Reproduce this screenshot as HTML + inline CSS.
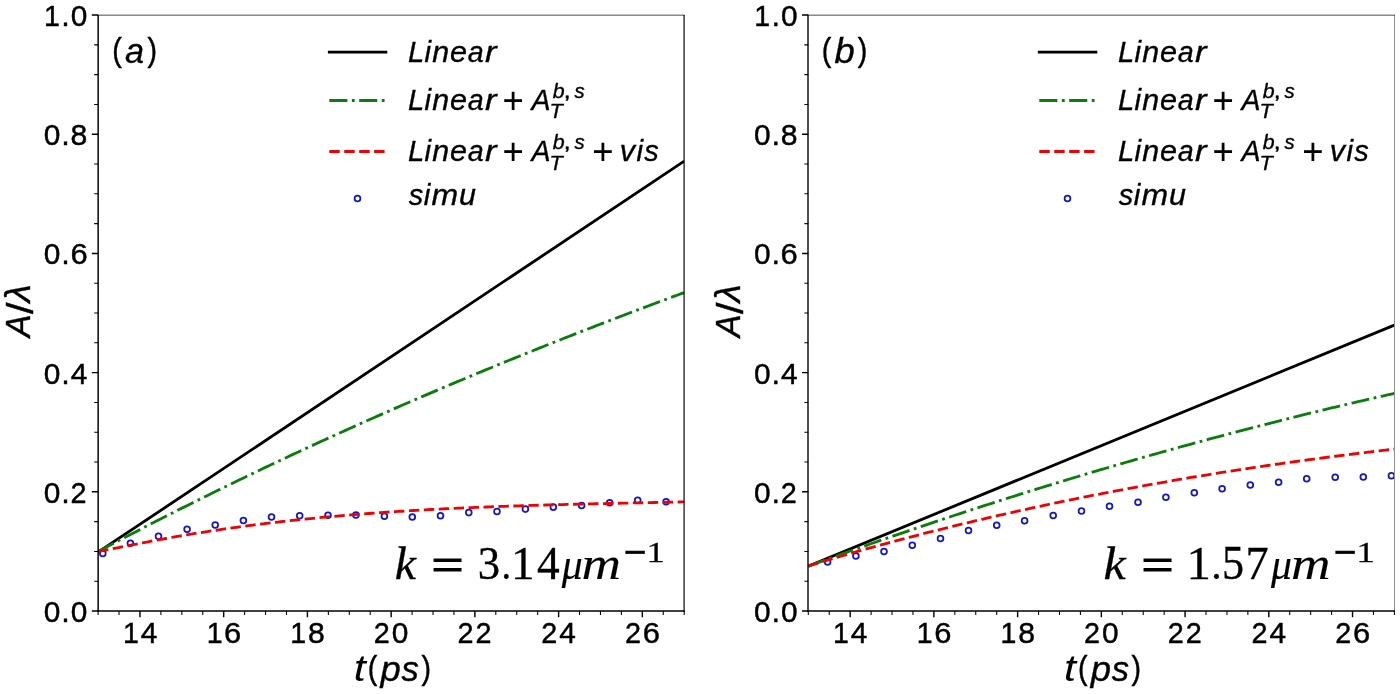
<!DOCTYPE html><html><head><meta charset="utf-8"><title>A/lambda vs t</title><style>html,body{margin:0;padding:0;background:#fff;overflow:hidden}svg{display:block;will-change:transform}</style></head><body>
<svg width="1400" height="694" viewBox="0 0 1400 694">
<rect width="1400" height="694" fill="#fff"/>
<defs><clipPath id="clipL"><rect x="98.10" y="15.05" width="586.10" height="595.95"/></clipPath><clipPath id="clipR"><rect x="808.30" y="15.05" width="586.10" height="595.95"/></clipPath></defs>
<g clip-path="url(#clipL)">
<circle cx="102.8" cy="553.5" r="2.9" fill="none" stroke="#1414d0" stroke-width="1.75"/>
<circle cx="130.4" cy="543.3" r="2.9" fill="none" stroke="#1414d0" stroke-width="1.75"/>
<circle cx="158.5" cy="536.2" r="2.9" fill="none" stroke="#1414d0" stroke-width="1.75"/>
<circle cx="187.1" cy="529.3" r="2.9" fill="none" stroke="#1414d0" stroke-width="1.75"/>
<circle cx="215.2" cy="525.0" r="2.9" fill="none" stroke="#1414d0" stroke-width="1.75"/>
<circle cx="243.4" cy="520.5" r="2.9" fill="none" stroke="#1414d0" stroke-width="1.75"/>
<circle cx="271.5" cy="517.0" r="2.9" fill="none" stroke="#1414d0" stroke-width="1.75"/>
<circle cx="299.7" cy="515.8" r="2.9" fill="none" stroke="#1414d0" stroke-width="1.75"/>
<circle cx="328.0" cy="515.3" r="2.9" fill="none" stroke="#1414d0" stroke-width="1.75"/>
<circle cx="355.9" cy="515.1" r="2.9" fill="none" stroke="#1414d0" stroke-width="1.75"/>
<circle cx="384.4" cy="516.3" r="2.9" fill="none" stroke="#1414d0" stroke-width="1.75"/>
<circle cx="412.3" cy="517.1" r="2.9" fill="none" stroke="#1414d0" stroke-width="1.75"/>
<circle cx="440.5" cy="515.7" r="2.9" fill="none" stroke="#1414d0" stroke-width="1.75"/>
<circle cx="468.8" cy="512.6" r="2.9" fill="none" stroke="#1414d0" stroke-width="1.75"/>
<circle cx="497.0" cy="511.4" r="2.9" fill="none" stroke="#1414d0" stroke-width="1.75"/>
<circle cx="525.4" cy="509.1" r="2.9" fill="none" stroke="#1414d0" stroke-width="1.75"/>
<circle cx="553.3" cy="507.1" r="2.9" fill="none" stroke="#1414d0" stroke-width="1.75"/>
<circle cx="581.6" cy="505.5" r="2.9" fill="none" stroke="#1414d0" stroke-width="1.75"/>
<circle cx="609.7" cy="502.8" r="2.9" fill="none" stroke="#1414d0" stroke-width="1.75"/>
<circle cx="637.7" cy="500.3" r="2.9" fill="none" stroke="#1414d0" stroke-width="1.75"/>
<circle cx="666.1" cy="501.7" r="2.9" fill="none" stroke="#1414d0" stroke-width="1.75"/>
<path d="M98.10,552.20 L684.20,161.20" fill="none" stroke="#000" stroke-width="2.82"/>
<path d="M98.10,551.50 L101.05,549.94 L103.99,548.37 L106.94,546.82 L109.88,545.26 L112.83,543.71 L115.77,542.16 L118.72,540.61 L121.66,539.07 L124.61,537.53 L127.55,536.00 L130.50,534.46 L133.44,532.93 L136.39,531.41 L139.33,529.88 L142.28,528.36 L145.22,526.84 L148.17,525.33 L151.11,523.81 L154.06,522.31 L157.00,520.80 L159.95,519.30 L162.89,517.80 L165.84,516.30 L168.79,514.81 L171.73,513.31 L174.68,511.83 L177.62,510.34 L180.57,508.86 L183.51,507.38 L186.46,505.90 L189.40,504.43 L192.35,502.96 L195.29,501.49 L198.24,500.03 L201.18,498.57 L204.13,497.11 L207.07,495.65 L210.02,494.20 L212.96,492.75 L215.91,491.30 L218.85,489.86 L221.80,488.41 L224.74,486.98 L227.69,485.54 L230.64,484.11 L233.58,482.68 L236.53,481.25 L239.47,479.82 L242.42,478.40 L245.36,476.98 L248.31,475.57 L251.25,474.15 L254.20,472.74 L257.14,471.33 L260.09,469.93 L263.03,468.53 L265.98,467.13 L268.92,465.73 L271.87,464.34 L274.81,462.94 L277.76,461.56 L280.70,460.17 L283.65,458.79 L286.59,457.40 L289.54,456.03 L292.48,454.65 L295.43,453.28 L298.38,451.91 L301.32,450.54 L304.27,449.18 L307.21,447.81 L310.16,446.45 L313.10,445.10 L316.05,443.74 L318.99,442.39 L321.94,441.04 L324.88,439.70 L327.83,438.35 L330.77,437.01 L333.72,435.67 L336.66,434.34 L339.61,433.00 L342.55,431.67 L345.50,430.34 L348.44,429.02 L351.39,427.69 L354.33,426.37 L357.28,425.05 L360.23,423.74 L363.17,422.42 L366.12,421.11 L369.06,419.80 L372.01,418.50 L374.95,417.19 L377.90,415.89 L380.84,414.59 L383.79,413.30 L386.73,412.00 L389.68,410.71 L392.62,409.42 L395.57,408.14 L398.51,406.85 L401.46,405.57 L404.40,404.29 L407.35,403.02 L410.29,401.74 L413.24,400.47 L416.18,399.20 L419.13,397.93 L422.07,396.67 L425.02,395.40 L427.97,394.14 L430.91,392.88 L433.86,391.63 L436.80,390.38 L439.75,389.12 L442.69,387.88 L445.64,386.63 L448.58,385.38 L451.53,384.14 L454.47,382.90 L457.42,381.66 L460.36,380.43 L463.31,379.20 L466.25,377.97 L469.20,376.74 L472.14,375.51 L475.09,374.29 L478.03,373.06 L480.98,371.85 L483.92,370.63 L486.87,369.41 L489.82,368.20 L492.76,366.99 L495.71,365.78 L498.65,364.57 L501.60,363.37 L504.54,362.17 L507.49,360.97 L510.43,359.77 L513.38,358.57 L516.32,357.38 L519.27,356.19 L522.21,355.00 L525.16,353.81 L528.10,352.62 L531.05,351.44 L533.99,350.26 L536.94,349.08 L539.88,347.90 L542.83,346.73 L545.77,345.55 L548.72,344.38 L551.66,343.21 L554.61,342.05 L557.56,340.88 L560.50,339.72 L563.45,338.56 L566.39,337.40 L569.34,336.24 L572.28,335.09 L575.23,333.93 L578.17,332.78 L581.12,331.63 L584.06,330.49 L587.01,329.34 L589.95,328.20 L592.90,327.06 L595.84,325.92 L598.79,324.78 L601.73,323.64 L604.68,322.51 L607.62,321.38 L610.57,320.25 L613.51,319.12 L616.46,317.99 L619.41,316.87 L622.35,315.75 L625.30,314.62 L628.24,313.51 L631.19,312.39 L634.13,311.27 L637.08,310.16 L640.02,309.05 L642.97,307.94 L645.91,306.83 L648.86,305.72 L651.80,304.62 L654.75,303.52 L657.69,302.41 L660.64,301.32 L663.58,300.22 L666.53,299.12 L669.47,298.03 L672.42,296.94 L675.36,295.85 L678.31,294.76 L681.25,293.67 L684.20,292.58" fill="none" stroke="#0a7d0a" stroke-width="2.82" stroke-dasharray="18.05 4.51 2.82 4.51" stroke-dashoffset="0.4"/>
<path d="M98.10,551.50 L101.05,550.96 L103.99,550.40 L106.94,549.84 L109.88,549.27 L112.83,548.69 L115.77,548.11 L118.72,547.53 L121.66,546.95 L124.61,546.36 L127.55,545.78 L130.50,545.20 L133.44,544.62 L136.39,544.05 L139.33,543.48 L142.28,542.91 L145.22,542.34 L148.17,541.78 L151.11,541.22 L154.06,540.67 L157.00,540.12 L159.95,539.58 L162.89,539.04 L165.84,538.51 L168.79,537.98 L171.73,537.46 L174.68,536.94 L177.62,536.43 L180.57,535.93 L183.51,535.42 L186.46,534.93 L189.40,534.44 L192.35,533.95 L195.29,533.47 L198.24,533.00 L201.18,532.53 L204.13,532.06 L207.07,531.60 L210.02,531.15 L212.96,530.70 L215.91,530.25 L218.85,529.82 L221.80,529.38 L224.74,528.95 L227.69,528.53 L230.64,528.11 L233.58,527.70 L236.53,527.29 L239.47,526.89 L242.42,526.49 L245.36,526.09 L248.31,525.70 L251.25,525.32 L254.20,524.94 L257.14,524.57 L260.09,524.20 L263.03,523.83 L265.98,523.47 L268.92,523.11 L271.87,522.76 L274.81,522.41 L277.76,522.07 L280.70,521.73 L283.65,521.40 L286.59,521.07 L289.54,520.74 L292.48,520.42 L295.43,520.11 L298.38,519.79 L301.32,519.48 L304.27,519.18 L307.21,518.88 L310.16,518.58 L313.10,518.29 L316.05,518.00 L318.99,517.72 L321.94,517.44 L324.88,517.16 L327.83,516.89 L330.77,516.62 L333.72,516.36 L336.66,516.10 L339.61,515.84 L342.55,515.59 L345.50,515.34 L348.44,515.09 L351.39,514.85 L354.33,514.61 L357.28,514.38 L360.23,514.14 L363.17,513.92 L366.12,513.69 L369.06,513.47 L372.01,513.25 L374.95,513.04 L377.90,512.82 L380.84,512.61 L383.79,512.41 L386.73,512.21 L389.68,512.01 L392.62,511.81 L395.57,511.62 L398.51,511.43 L401.46,511.24 L404.40,511.06 L407.35,510.88 L410.29,510.70 L413.24,510.53 L416.18,510.35 L419.13,510.18 L422.07,510.02 L425.02,509.85 L427.97,509.69 L430.91,509.53 L433.86,509.38 L436.80,509.22 L439.75,509.07 L442.69,508.92 L445.64,508.78 L448.58,508.63 L451.53,508.49 L454.47,508.35 L457.42,508.21 L460.36,508.08 L463.31,507.95 L466.25,507.82 L469.20,507.69 L472.14,507.56 L475.09,507.44 L478.03,507.32 L480.98,507.20 L483.92,507.08 L486.87,506.97 L489.82,506.85 L492.76,506.74 L495.71,506.63 L498.65,506.52 L501.60,506.42 L504.54,506.31 L507.49,506.21 L510.43,506.11 L513.38,506.01 L516.32,505.91 L519.27,505.82 L522.21,505.72 L525.16,505.63 L528.10,505.54 L531.05,505.45 L533.99,505.36 L536.94,505.27 L539.88,505.18 L542.83,505.10 L545.77,505.02 L548.72,504.93 L551.66,504.85 L554.61,504.77 L557.56,504.69 L560.50,504.62 L563.45,504.54 L566.39,504.46 L569.34,504.39 L572.28,504.31 L575.23,504.24 L578.17,504.17 L581.12,504.10 L584.06,504.03 L587.01,503.96 L589.95,503.89 L592.90,503.82 L595.84,503.75 L598.79,503.69 L601.73,503.62 L604.68,503.55 L607.62,503.49 L610.57,503.42 L613.51,503.36 L616.46,503.30 L619.41,503.23 L622.35,503.17 L625.30,503.11 L628.24,503.04 L631.19,502.98 L634.13,502.92 L637.08,502.86 L640.02,502.79 L642.97,502.73 L645.91,502.67 L648.86,502.61 L651.80,502.55 L654.75,502.49 L657.69,502.42 L660.64,502.36 L663.58,502.30 L666.53,502.24 L669.47,502.17 L672.42,502.11 L675.36,502.05 L678.31,501.98 L681.25,501.92 L684.20,501.86" fill="none" stroke="#f00000" stroke-width="2.82" stroke-dasharray="10.43 4.51"/>
</g>
<path d="M98.13,14.9V611.9" stroke="#000" stroke-width="1.47" fill="none"/>
<path d="M684.1,14.9V611.9" stroke="#000" stroke-width="1.16" fill="none"/>
<path d="M97.4,611.1H684.7" stroke="#000" stroke-width="1.54" fill="none"/>
<path d="M97.4,15.17H684.7" stroke="#000" stroke-width="0.7" fill="none"/>
<path d="M139.96,611.00v6.3 M223.69,611.00v6.3 M307.42,611.00v6.3 M391.15,611.00v6.3 M474.88,611.00v6.3 M558.61,611.00v6.3 M642.34,611.00v6.3 M98.10,611.00h-6.3 M98.10,491.81h-6.3 M98.10,372.62h-6.3 M98.10,253.43h-6.3 M98.10,134.24h-6.3 M98.10,15.05h-6.3" stroke="#000" stroke-width="1.4" fill="none"/>
<path d="M98.10,611.00v3.9 M119.03,611.00v3.9 M160.90,611.00v3.9 M181.83,611.00v3.9 M202.76,611.00v3.9 M244.62,611.00v3.9 M265.56,611.00v3.9 M286.49,611.00v3.9 M328.35,611.00v3.9 M349.29,611.00v3.9 M370.22,611.00v3.9 M412.08,611.00v3.9 M433.01,611.00v3.9 M453.95,611.00v3.9 M495.81,611.00v3.9 M516.74,611.00v3.9 M537.67,611.00v3.9 M579.54,611.00v3.9 M600.47,611.00v3.9 M621.40,611.00v3.9 M663.27,611.00v3.9 M684.20,611.00v3.9 M98.10,581.20h-3.9 M98.10,551.40h-3.9 M98.10,521.61h-3.9 M98.10,462.01h-3.9 M98.10,432.21h-3.9 M98.10,402.42h-3.9 M98.10,342.82h-3.9 M98.10,313.02h-3.9 M98.10,283.23h-3.9 M98.10,223.63h-3.9 M98.10,193.83h-3.9 M98.10,164.04h-3.9 M98.10,104.44h-3.9 M98.10,74.64h-3.9 M98.10,44.85h-3.9" stroke="#000" stroke-width="1.05" fill="none"/>
<g><text transform="translate(122.90 642.90) scale(0.9502 1)" style="font-family:'Liberation Sans',sans-serif;font-size:29.99px;" stroke="#000" stroke-width="0.45">1</text><text transform="translate(140.66 642.90) scale(0.9949 1)" style="font-family:'Liberation Sans',sans-serif;font-size:29.99px;" stroke="#000" stroke-width="0.45">4</text></g>
<g><text transform="translate(206.63 642.90) scale(0.9502 1)" style="font-family:'Liberation Sans',sans-serif;font-size:29.99px;" stroke="#000" stroke-width="0.45">1</text><text transform="translate(224.10 642.90) scale(1.0213 1)" style="font-family:'Liberation Sans',sans-serif;font-size:30.23px;" stroke="#000" stroke-width="0.45">6</text></g>
<g><text transform="translate(290.35 642.90) scale(0.9502 1)" style="font-family:'Liberation Sans',sans-serif;font-size:29.99px;" stroke="#000" stroke-width="0.45">1</text><text transform="translate(308.03 642.90) scale(0.9975 1)" style="font-family:'Liberation Sans',sans-serif;font-size:30.23px;" stroke="#000" stroke-width="0.45">8</text></g>
<g><text transform="translate(373.77 642.90) scale(0.9559 1)" style="font-family:'Liberation Sans',sans-serif;font-size:30.08px;" stroke="#000" stroke-width="0.45">2</text><text transform="translate(391.85 642.90) scale(0.9868 1)" style="font-family:'Liberation Sans',sans-serif;font-size:30.23px;" stroke="#000" stroke-width="0.45">0</text></g>
<g><text transform="translate(457.50 642.90) scale(0.9559 1)" style="font-family:'Liberation Sans',sans-serif;font-size:30.08px;" stroke="#000" stroke-width="0.45">2</text><text transform="translate(475.51 642.90) scale(0.9559 1)" style="font-family:'Liberation Sans',sans-serif;font-size:30.08px;" stroke="#000" stroke-width="0.45">2</text></g>
<g><text transform="translate(541.23 642.90) scale(0.9559 1)" style="font-family:'Liberation Sans',sans-serif;font-size:30.08px;" stroke="#000" stroke-width="0.45">2</text><text transform="translate(559.30 642.90) scale(0.9949 1)" style="font-family:'Liberation Sans',sans-serif;font-size:29.99px;" stroke="#000" stroke-width="0.45">4</text></g>
<g><text transform="translate(624.96 642.90) scale(0.9559 1)" style="font-family:'Liberation Sans',sans-serif;font-size:30.08px;" stroke="#000" stroke-width="0.45">2</text><text transform="translate(642.74 642.90) scale(1.0213 1)" style="font-family:'Liberation Sans',sans-serif;font-size:30.23px;" stroke="#000" stroke-width="0.45">6</text></g>
<g><text transform="translate(43.69 622.00) scale(0.9868 1)" style="font-family:'Liberation Sans',sans-serif;font-size:30.23px;" stroke="#000" stroke-width="0.45">0</text><text transform="translate(61.23 622.00) scale(0.9630 1)" style="font-family:'Liberation Sans',sans-serif;font-size:31.80px;" stroke="#000" stroke-width="0.45">.</text><text transform="translate(70.69 622.00) scale(0.9868 1)" style="font-family:'Liberation Sans',sans-serif;font-size:30.23px;" stroke="#000" stroke-width="0.45">0</text></g>
<g><text transform="translate(43.69 502.81) scale(0.9868 1)" style="font-family:'Liberation Sans',sans-serif;font-size:30.23px;" stroke="#000" stroke-width="0.45">0</text><text transform="translate(61.23 502.81) scale(0.9630 1)" style="font-family:'Liberation Sans',sans-serif;font-size:31.80px;" stroke="#000" stroke-width="0.45">.</text><text transform="translate(70.62 502.81) scale(0.9559 1)" style="font-family:'Liberation Sans',sans-serif;font-size:30.08px;" stroke="#000" stroke-width="0.45">2</text></g>
<g><text transform="translate(43.69 383.62) scale(0.9868 1)" style="font-family:'Liberation Sans',sans-serif;font-size:30.23px;" stroke="#000" stroke-width="0.45">0</text><text transform="translate(61.23 383.62) scale(0.9630 1)" style="font-family:'Liberation Sans',sans-serif;font-size:31.80px;" stroke="#000" stroke-width="0.45">.</text><text transform="translate(70.69 383.62) scale(0.9949 1)" style="font-family:'Liberation Sans',sans-serif;font-size:29.99px;" stroke="#000" stroke-width="0.45">4</text></g>
<g><text transform="translate(43.69 264.43) scale(0.9868 1)" style="font-family:'Liberation Sans',sans-serif;font-size:30.23px;" stroke="#000" stroke-width="0.45">0</text><text transform="translate(61.23 264.43) scale(0.9630 1)" style="font-family:'Liberation Sans',sans-serif;font-size:31.80px;" stroke="#000" stroke-width="0.45">.</text><text transform="translate(70.40 264.43) scale(1.0213 1)" style="font-family:'Liberation Sans',sans-serif;font-size:30.23px;" stroke="#000" stroke-width="0.45">6</text></g>
<g><text transform="translate(43.69 145.24) scale(0.9868 1)" style="font-family:'Liberation Sans',sans-serif;font-size:30.23px;" stroke="#000" stroke-width="0.45">0</text><text transform="translate(61.23 145.24) scale(0.9630 1)" style="font-family:'Liberation Sans',sans-serif;font-size:31.80px;" stroke="#000" stroke-width="0.45">.</text><text transform="translate(70.60 145.24) scale(0.9975 1)" style="font-family:'Liberation Sans',sans-serif;font-size:30.23px;" stroke="#000" stroke-width="0.45">8</text></g>
<g><text transform="translate(43.93 26.05) scale(0.9502 1)" style="font-family:'Liberation Sans',sans-serif;font-size:29.99px;" stroke="#000" stroke-width="0.45">1</text><text transform="translate(61.23 26.05) scale(0.9630 1)" style="font-family:'Liberation Sans',sans-serif;font-size:31.80px;" stroke="#000" stroke-width="0.45">.</text><text transform="translate(70.69 26.05) scale(0.9868 1)" style="font-family:'Liberation Sans',sans-serif;font-size:30.23px;" stroke="#000" stroke-width="0.45">0</text></g>
<g><text transform="translate(353.80 680.60) scale(1.2000 1)" style="font-family:'Liberation Sans',sans-serif;font-size:36.16px;font-style:italic;">t</text><text transform="translate(367.72 678.72) scale(0.8484 1)" style="font-family:'Liberation Sans',sans-serif;font-size:33.68px;" stroke="#000" stroke-width="0.45">(</text><text transform="translate(380.59 680.60) scale(1.0468 1)" style="font-family:'Liberation Sans',sans-serif;font-size:34.82px;font-style:italic;" stroke="#000" stroke-width="0.35">p</text><text transform="translate(401.53 680.60) scale(0.9749 1)" style="font-family:'Liberation Sans',sans-serif;font-size:35.52px;font-style:italic;" stroke="#000" stroke-width="0.35">s</text><text transform="translate(421.38 678.72) scale(0.8484 1)" style="font-family:'Liberation Sans',sans-serif;font-size:33.68px;" stroke="#000" stroke-width="0.45">)</text></g>
<g transform="translate(30.40 339.0) rotate(-90)"><g><text transform="translate(1.68 0.00) scale(0.9521 1)" style="font-family:'Liberation Sans',sans-serif;font-size:35.82px;font-style:italic;" stroke="#000" stroke-width="0.35">A</text><text transform="translate(24.92 2.77) scale(1.0837 1)" style="font-family:'Liberation Sans',sans-serif;font-size:37.82px;" stroke="#000" stroke-width="0.45">/</text><text transform="translate(36.51 0.00) scale(1.0479 1)" style="font-family:'Liberation Sans',sans-serif;font-size:35.44px;font-style:italic;" stroke="#000" stroke-width="0.35">λ</text></g></g>
<g><text transform="translate(112.23 60.72) scale(0.8484 1)" style="font-family:'Liberation Sans',sans-serif;font-size:33.68px;" stroke="#000" stroke-width="0.45">(</text><text transform="translate(124.90 62.60) scale(0.9662 1)" style="font-family:'Liberation Sans',sans-serif;font-size:35.43px;font-style:italic;" stroke="#000" stroke-width="0.35">a</text><text transform="translate(147.53 60.72) scale(0.8484 1)" style="font-family:'Liberation Sans',sans-serif;font-size:33.68px;" stroke="#000" stroke-width="0.45">)</text></g>
<path d="M329.3,52.1H385.9" stroke="#000" stroke-width="2.82" stroke-linecap="square"/>
<path d="M329.3,100.5H385.9" stroke="#0a7d0a" stroke-width="2.82" stroke-dasharray="18.05 4.51 2.82 4.51"/>
<path d="M329.3,151.5H385.9" stroke="#f00000" stroke-width="2.82" stroke-dasharray="10.43 4.51"/>
<circle cx="357.5" cy="198.5" r="2.9" fill="none" stroke="#1414d0" stroke-width="1.75"/>
<g><text transform="translate(408.10 61.80) scale(0.9741 1)" style="font-family:'Liberation Sans',sans-serif;font-size:29.99px;font-style:italic;" stroke="#000" stroke-width="0.35">L</text><text transform="translate(424.53 61.80) scale(0.9924 1)" style="font-family:'Liberation Sans',sans-serif;font-size:29.67px;font-style:italic;" stroke="#000" stroke-width="0.35">i</text><text transform="translate(432.36 61.80) scale(1.0310 1)" style="font-family:'Liberation Sans',sans-serif;font-size:29.48px;font-style:italic;" stroke="#000" stroke-width="0.35">n</text><text transform="translate(450.07 61.80) scale(1.0318 1)" style="font-family:'Liberation Sans',sans-serif;font-size:29.66px;font-style:italic;" stroke="#000" stroke-width="0.35">e</text><text transform="translate(467.73 61.80) scale(0.9662 1)" style="font-family:'Liberation Sans',sans-serif;font-size:29.66px;font-style:italic;" stroke="#000" stroke-width="0.35">a</text><text transform="translate(484.98 61.80) scale(1.1738 1)" style="font-family:'Liberation Sans',sans-serif;font-size:29.46px;font-style:italic;" stroke="#000" stroke-width="0.35">r</text></g>
<g><text transform="translate(408.10 109.70) scale(0.9741 1)" style="font-family:'Liberation Sans',sans-serif;font-size:29.99px;font-style:italic;" stroke="#000" stroke-width="0.35">L</text><text transform="translate(424.53 109.70) scale(0.9924 1)" style="font-family:'Liberation Sans',sans-serif;font-size:29.67px;font-style:italic;" stroke="#000" stroke-width="0.35">i</text><text transform="translate(432.36 109.70) scale(1.0310 1)" style="font-family:'Liberation Sans',sans-serif;font-size:29.48px;font-style:italic;" stroke="#000" stroke-width="0.35">n</text><text transform="translate(450.07 109.70) scale(1.0318 1)" style="font-family:'Liberation Sans',sans-serif;font-size:29.66px;font-style:italic;" stroke="#000" stroke-width="0.35">e</text><text transform="translate(467.73 109.70) scale(0.9662 1)" style="font-family:'Liberation Sans',sans-serif;font-size:29.66px;font-style:italic;" stroke="#000" stroke-width="0.35">a</text><text transform="translate(484.98 109.70) scale(1.1738 1)" style="font-family:'Liberation Sans',sans-serif;font-size:29.46px;font-style:italic;" stroke="#000" stroke-width="0.35">r</text></g>
<g><text transform="translate(502.42 112.89) scale(1.0055 1)" style="font-family:'Liberation Sans',sans-serif;font-size:36.26px;" stroke="#000" stroke-width="0.1">+</text></g>
<g><text transform="translate(531.41 109.70) scale(0.9521 1)" style="font-family:'Liberation Sans',sans-serif;font-size:29.99px;font-style:italic;" stroke="#000" stroke-width="0.35">A</text></g>
<g><text transform="translate(549.46 118.30) scale(1.0295 1)" style="font-family:'Liberation Sans',sans-serif;font-size:20.99px;font-style:italic;" stroke="#000" stroke-width="0.35">T</text></g>
<g><text transform="translate(552.70 97.50) scale(1.0223 1)" style="font-family:'Liberation Sans',sans-serif;font-size:20.88px;font-style:italic;" stroke="#000" stroke-width="0.35">b</text></g>
<g><text transform="translate(563.64 97.50) scale(1.2000 1)" style="font-family:'Liberation Sans',sans-serif;font-size:20.26px;" stroke="#000" stroke-width="0.45">,</text></g>
<g><text transform="translate(574.55 97.50) scale(0.9749 1)" style="font-family:'Liberation Sans',sans-serif;font-size:20.82px;font-style:italic;" stroke="#000" stroke-width="0.35">s</text></g>
<g><text transform="translate(408.10 160.90) scale(0.9741 1)" style="font-family:'Liberation Sans',sans-serif;font-size:29.99px;font-style:italic;" stroke="#000" stroke-width="0.35">L</text><text transform="translate(424.53 160.90) scale(0.9924 1)" style="font-family:'Liberation Sans',sans-serif;font-size:29.67px;font-style:italic;" stroke="#000" stroke-width="0.35">i</text><text transform="translate(432.36 160.90) scale(1.0310 1)" style="font-family:'Liberation Sans',sans-serif;font-size:29.48px;font-style:italic;" stroke="#000" stroke-width="0.35">n</text><text transform="translate(450.07 160.90) scale(1.0318 1)" style="font-family:'Liberation Sans',sans-serif;font-size:29.66px;font-style:italic;" stroke="#000" stroke-width="0.35">e</text><text transform="translate(467.73 160.90) scale(0.9662 1)" style="font-family:'Liberation Sans',sans-serif;font-size:29.66px;font-style:italic;" stroke="#000" stroke-width="0.35">a</text><text transform="translate(484.98 160.90) scale(1.1738 1)" style="font-family:'Liberation Sans',sans-serif;font-size:29.46px;font-style:italic;" stroke="#000" stroke-width="0.35">r</text></g>
<g><text transform="translate(502.42 164.09) scale(1.0055 1)" style="font-family:'Liberation Sans',sans-serif;font-size:36.26px;" stroke="#000" stroke-width="0.1">+</text></g>
<g><text transform="translate(531.41 160.90) scale(0.9521 1)" style="font-family:'Liberation Sans',sans-serif;font-size:29.99px;font-style:italic;" stroke="#000" stroke-width="0.35">A</text></g>
<g><text transform="translate(549.46 169.50) scale(1.0295 1)" style="font-family:'Liberation Sans',sans-serif;font-size:20.99px;font-style:italic;" stroke="#000" stroke-width="0.35">T</text></g>
<g><text transform="translate(552.70 148.70) scale(1.0223 1)" style="font-family:'Liberation Sans',sans-serif;font-size:20.88px;font-style:italic;" stroke="#000" stroke-width="0.35">b</text></g>
<g><text transform="translate(563.64 148.70) scale(1.2000 1)" style="font-family:'Liberation Sans',sans-serif;font-size:20.26px;" stroke="#000" stroke-width="0.45">,</text></g>
<g><text transform="translate(574.55 148.70) scale(0.9749 1)" style="font-family:'Liberation Sans',sans-serif;font-size:20.82px;font-style:italic;" stroke="#000" stroke-width="0.35">s</text></g>
<g><text transform="translate(592.22 164.09) scale(1.0055 1)" style="font-family:'Liberation Sans',sans-serif;font-size:36.26px;" stroke="#000" stroke-width="0.1">+</text></g>
<g><text transform="translate(619.63 160.90) scale(1.0426 1)" style="font-family:'Liberation Sans',sans-serif;font-size:29.29px;font-style:italic;" stroke="#000" stroke-width="0.35">v</text><text transform="translate(636.54 160.90) scale(0.9924 1)" style="font-family:'Liberation Sans',sans-serif;font-size:29.67px;font-style:italic;" stroke="#000" stroke-width="0.35">i</text><text transform="translate(644.13 160.90) scale(0.9749 1)" style="font-family:'Liberation Sans',sans-serif;font-size:29.74px;font-style:italic;" stroke="#000" stroke-width="0.35">s</text></g>
<g><text transform="translate(408.73 205.00) scale(0.9749 1)" style="font-family:'Liberation Sans',sans-serif;font-size:29.74px;font-style:italic;" stroke="#000" stroke-width="0.35">s</text><text transform="translate(423.75 205.00) scale(0.9924 1)" style="font-family:'Liberation Sans',sans-serif;font-size:29.67px;font-style:italic;" stroke="#000" stroke-width="0.35">i</text><text transform="translate(431.55 205.00) scale(1.0853 1)" style="font-family:'Liberation Sans',sans-serif;font-size:29.48px;font-style:italic;" stroke="#000" stroke-width="0.35">m</text><text transform="translate(458.99 205.00) scale(1.0311 1)" style="font-family:'Liberation Sans',sans-serif;font-size:29.53px;font-style:italic;" stroke="#000" stroke-width="0.35">u</text></g>
<g clip-path="url(#clipR)">
<circle cx="827.6" cy="561.9" r="2.9" fill="none" stroke="#1414d0" stroke-width="1.75"/>
<circle cx="855.9" cy="556.0" r="2.9" fill="none" stroke="#1414d0" stroke-width="1.75"/>
<circle cx="884.0" cy="551.5" r="2.9" fill="none" stroke="#1414d0" stroke-width="1.75"/>
<circle cx="912.3" cy="545.2" r="2.9" fill="none" stroke="#1414d0" stroke-width="1.75"/>
<circle cx="940.5" cy="538.4" r="2.9" fill="none" stroke="#1414d0" stroke-width="1.75"/>
<circle cx="968.5" cy="530.5" r="2.9" fill="none" stroke="#1414d0" stroke-width="1.75"/>
<circle cx="996.7" cy="525.3" r="2.9" fill="none" stroke="#1414d0" stroke-width="1.75"/>
<circle cx="1024.6" cy="520.7" r="2.9" fill="none" stroke="#1414d0" stroke-width="1.75"/>
<circle cx="1053.2" cy="515.5" r="2.9" fill="none" stroke="#1414d0" stroke-width="1.75"/>
<circle cx="1081.5" cy="511.0" r="2.9" fill="none" stroke="#1414d0" stroke-width="1.75"/>
<circle cx="1109.5" cy="506.3" r="2.9" fill="none" stroke="#1414d0" stroke-width="1.75"/>
<circle cx="1138.0" cy="502.3" r="2.9" fill="none" stroke="#1414d0" stroke-width="1.75"/>
<circle cx="1165.9" cy="497.2" r="2.9" fill="none" stroke="#1414d0" stroke-width="1.75"/>
<circle cx="1194.3" cy="492.7" r="2.9" fill="none" stroke="#1414d0" stroke-width="1.75"/>
<circle cx="1222.1" cy="488.7" r="2.9" fill="none" stroke="#1414d0" stroke-width="1.75"/>
<circle cx="1250.3" cy="485.0" r="2.9" fill="none" stroke="#1414d0" stroke-width="1.75"/>
<circle cx="1278.6" cy="482.2" r="2.9" fill="none" stroke="#1414d0" stroke-width="1.75"/>
<circle cx="1306.7" cy="478.8" r="2.9" fill="none" stroke="#1414d0" stroke-width="1.75"/>
<circle cx="1335.2" cy="477.2" r="2.9" fill="none" stroke="#1414d0" stroke-width="1.75"/>
<circle cx="1363.3" cy="477.0" r="2.9" fill="none" stroke="#1414d0" stroke-width="1.75"/>
<circle cx="1391.4" cy="475.8" r="2.9" fill="none" stroke="#1414d0" stroke-width="1.75"/>
<path d="M808.30,566.10 L1394.40,325.10" fill="none" stroke="#000" stroke-width="2.82"/>
<path d="M808.30,566.10 L811.25,565.03 L814.19,563.96 L817.14,562.89 L820.08,561.82 L823.03,560.76 L825.97,559.70 L828.92,558.64 L831.86,557.58 L834.81,556.53 L837.75,555.47 L840.70,554.42 L843.64,553.37 L846.59,552.33 L849.53,551.28 L852.48,550.24 L855.42,549.20 L858.37,548.16 L861.31,547.12 L864.26,546.09 L867.20,545.05 L870.15,544.02 L873.09,542.99 L876.04,541.97 L878.99,540.94 L881.93,539.92 L884.88,538.90 L887.82,537.88 L890.77,536.87 L893.71,535.85 L896.66,534.84 L899.60,533.83 L902.55,532.82 L905.49,531.82 L908.44,530.81 L911.38,529.81 L914.33,528.81 L917.27,527.81 L920.22,526.82 L923.16,525.82 L926.11,524.83 L929.05,523.84 L932.00,522.85 L934.94,521.87 L937.89,520.89 L940.84,519.90 L943.78,518.93 L946.73,517.95 L949.67,516.97 L952.62,516.00 L955.56,515.03 L958.51,514.06 L961.45,513.09 L964.40,512.13 L967.34,511.17 L970.29,510.21 L973.23,509.25 L976.18,508.29 L979.12,507.34 L982.07,506.38 L985.01,505.43 L987.96,504.48 L990.90,503.54 L993.85,502.59 L996.79,501.65 L999.74,500.71 L1002.68,499.77 L1005.63,498.84 L1008.58,497.90 L1011.52,496.97 L1014.47,496.04 L1017.41,495.11 L1020.36,494.19 L1023.30,493.26 L1026.25,492.34 L1029.19,491.42 L1032.14,490.51 L1035.08,489.59 L1038.03,488.68 L1040.97,487.77 L1043.92,486.86 L1046.86,485.95 L1049.81,485.04 L1052.75,484.14 L1055.70,483.24 L1058.64,482.34 L1061.59,481.44 L1064.53,480.55 L1067.48,479.66 L1070.43,478.77 L1073.37,477.88 L1076.32,476.99 L1079.26,476.11 L1082.21,475.22 L1085.15,474.34 L1088.10,473.47 L1091.04,472.59 L1093.99,471.72 L1096.93,470.84 L1099.88,469.97 L1102.82,469.11 L1105.77,468.24 L1108.71,467.38 L1111.66,466.51 L1114.60,465.65 L1117.55,464.80 L1120.49,463.94 L1123.44,463.09 L1126.38,462.23 L1129.33,461.39 L1132.27,460.54 L1135.22,459.69 L1138.17,458.85 L1141.11,458.01 L1144.06,457.17 L1147.00,456.33 L1149.95,455.50 L1152.89,454.66 L1155.84,453.83 L1158.78,453.00 L1161.73,452.18 L1164.67,451.35 L1167.62,450.53 L1170.56,449.71 L1173.51,448.89 L1176.45,448.07 L1179.40,447.26 L1182.34,446.45 L1185.29,445.64 L1188.23,444.83 L1191.18,444.02 L1194.12,443.22 L1197.07,442.41 L1200.02,441.61 L1202.96,440.82 L1205.91,440.02 L1208.85,439.23 L1211.80,438.43 L1214.74,437.65 L1217.69,436.86 L1220.63,436.07 L1223.58,435.29 L1226.52,434.51 L1229.47,433.73 L1232.41,432.95 L1235.36,432.17 L1238.30,431.40 L1241.25,430.63 L1244.19,429.86 L1247.14,429.09 L1250.08,428.33 L1253.03,427.57 L1255.97,426.80 L1258.92,426.05 L1261.86,425.29 L1264.81,424.53 L1267.76,423.78 L1270.70,423.03 L1273.65,422.28 L1276.59,421.53 L1279.54,420.79 L1282.48,420.05 L1285.43,419.31 L1288.37,418.57 L1291.32,417.83 L1294.26,417.10 L1297.21,416.37 L1300.15,415.64 L1303.10,414.91 L1306.04,414.18 L1308.99,413.46 L1311.93,412.74 L1314.88,412.02 L1317.82,411.30 L1320.77,410.58 L1323.71,409.87 L1326.66,409.16 L1329.61,408.45 L1332.55,407.74 L1335.50,407.04 L1338.44,406.33 L1341.39,405.63 L1344.33,404.93 L1347.28,404.23 L1350.22,403.54 L1353.17,402.85 L1356.11,402.16 L1359.06,401.47 L1362.00,400.78 L1364.95,400.10 L1367.89,399.41 L1370.84,398.73 L1373.78,398.05 L1376.73,397.38 L1379.67,396.70 L1382.62,396.03 L1385.56,395.36 L1388.51,394.69 L1391.45,394.02 L1394.40,393.36" fill="none" stroke="#0a7d0a" stroke-width="2.82" stroke-dasharray="18.05 4.51 2.82 4.51" stroke-dashoffset="0.4"/>
<path d="M808.30,566.10 L811.25,565.16 L814.19,564.23 L817.14,563.31 L820.08,562.40 L823.03,561.50 L825.97,560.61 L828.92,559.72 L831.86,558.84 L834.81,557.97 L837.75,557.10 L840.70,556.24 L843.64,555.38 L846.59,554.53 L849.53,553.68 L852.48,552.84 L855.42,552.00 L858.37,551.17 L861.31,550.34 L864.26,549.51 L867.20,548.69 L870.15,547.87 L873.09,547.06 L876.04,546.24 L878.99,545.44 L881.93,544.63 L884.88,543.83 L887.82,543.04 L890.77,542.24 L893.71,541.46 L896.66,540.67 L899.60,539.89 L902.55,539.11 L905.49,538.33 L908.44,537.56 L911.38,536.79 L914.33,536.02 L917.27,535.26 L920.22,534.50 L923.16,533.74 L926.11,532.99 L929.05,532.24 L932.00,531.50 L934.94,530.75 L937.89,530.01 L940.84,529.28 L943.78,528.54 L946.73,527.81 L949.67,527.08 L952.62,526.36 L955.56,525.64 L958.51,524.92 L961.45,524.21 L964.40,523.50 L967.34,522.79 L970.29,522.08 L973.23,521.38 L976.18,520.68 L979.12,519.98 L982.07,519.29 L985.01,518.60 L987.96,517.91 L990.90,517.23 L993.85,516.55 L996.79,515.87 L999.74,515.20 L1002.68,514.53 L1005.63,513.86 L1008.58,513.19 L1011.52,512.53 L1014.47,511.87 L1017.41,511.21 L1020.36,510.56 L1023.30,509.91 L1026.25,509.26 L1029.19,508.61 L1032.14,507.97 L1035.08,507.33 L1038.03,506.70 L1040.97,506.07 L1043.92,505.43 L1046.86,504.81 L1049.81,504.18 L1052.75,503.56 L1055.70,502.94 L1058.64,502.33 L1061.59,501.71 L1064.53,501.11 L1067.48,500.50 L1070.43,499.89 L1073.37,499.29 L1076.32,498.69 L1079.26,498.10 L1082.21,497.51 L1085.15,496.91 L1088.10,496.33 L1091.04,495.74 L1093.99,495.16 L1096.93,494.58 L1099.88,494.01 L1102.82,493.43 L1105.77,492.86 L1108.71,492.29 L1111.66,491.73 L1114.60,491.17 L1117.55,490.61 L1120.49,490.05 L1123.44,489.50 L1126.38,488.94 L1129.33,488.40 L1132.27,487.85 L1135.22,487.31 L1138.17,486.77 L1141.11,486.23 L1144.06,485.69 L1147.00,485.16 L1149.95,484.63 L1152.89,484.10 L1155.84,483.58 L1158.78,483.05 L1161.73,482.53 L1164.67,482.02 L1167.62,481.50 L1170.56,480.99 L1173.51,480.48 L1176.45,479.97 L1179.40,479.47 L1182.34,478.97 L1185.29,478.47 L1188.23,477.97 L1191.18,477.48 L1194.12,476.99 L1197.07,476.50 L1200.02,476.01 L1202.96,475.53 L1205.91,475.05 L1208.85,474.57 L1211.80,474.09 L1214.74,473.62 L1217.69,473.15 L1220.63,472.68 L1223.58,472.21 L1226.52,471.75 L1229.47,471.29 L1232.41,470.83 L1235.36,470.37 L1238.30,469.92 L1241.25,469.46 L1244.19,469.01 L1247.14,468.57 L1250.08,468.12 L1253.03,467.68 L1255.97,467.24 L1258.92,466.80 L1261.86,466.37 L1264.81,465.93 L1267.76,465.50 L1270.70,465.07 L1273.65,464.65 L1276.59,464.23 L1279.54,463.80 L1282.48,463.39 L1285.43,462.97 L1288.37,462.55 L1291.32,462.14 L1294.26,461.73 L1297.21,461.32 L1300.15,460.92 L1303.10,460.52 L1306.04,460.11 L1308.99,459.72 L1311.93,459.32 L1314.88,458.93 L1317.82,458.53 L1320.77,458.14 L1323.71,457.76 L1326.66,457.37 L1329.61,456.99 L1332.55,456.61 L1335.50,456.23 L1338.44,455.85 L1341.39,455.48 L1344.33,455.10 L1347.28,454.73 L1350.22,454.37 L1353.17,454.00 L1356.11,453.64 L1359.06,453.27 L1362.00,452.91 L1364.95,452.56 L1367.89,452.20 L1370.84,451.85 L1373.78,451.50 L1376.73,451.15 L1379.67,450.80 L1382.62,450.46 L1385.56,450.11 L1388.51,449.77 L1391.45,449.43 L1394.40,449.09" fill="none" stroke="#f00000" stroke-width="2.82" stroke-dasharray="10.43 4.51"/>
</g>
<path d="M808.0,14.9V611.9" stroke="#000" stroke-width="1.38" fill="none"/>
<path d="M1394.5,14.9V611.9" stroke="#909090" stroke-width="1.0" fill="none"/>
<path d="M807.3,611.1H1394.9" stroke="#000" stroke-width="1.54" fill="none"/>
<path d="M807.3,15.17H1394.9" stroke="#000" stroke-width="0.7" fill="none"/>
<path d="M850.16,611.00v6.3 M933.89,611.00v6.3 M1017.62,611.00v6.3 M1101.35,611.00v6.3 M1185.08,611.00v6.3 M1268.81,611.00v6.3 M1352.54,611.00v6.3 M808.30,611.00h-6.3 M808.30,491.81h-6.3 M808.30,372.62h-6.3 M808.30,253.43h-6.3 M808.30,134.24h-6.3 M808.30,15.05h-6.3" stroke="#000" stroke-width="1.4" fill="none"/>
<path d="M808.30,611.00v3.9 M829.23,611.00v3.9 M871.10,611.00v3.9 M892.03,611.00v3.9 M912.96,611.00v3.9 M954.83,611.00v3.9 M975.76,611.00v3.9 M996.69,611.00v3.9 M1038.55,611.00v3.9 M1059.49,611.00v3.9 M1080.42,611.00v3.9 M1122.28,611.00v3.9 M1143.21,611.00v3.9 M1164.15,611.00v3.9 M1206.01,611.00v3.9 M1226.94,611.00v3.9 M1247.88,611.00v3.9 M1289.74,611.00v3.9 M1310.67,611.00v3.9 M1331.60,611.00v3.9 M1373.47,611.00v3.9 M1394.40,611.00v3.9 M808.30,581.20h-3.9 M808.30,551.40h-3.9 M808.30,521.61h-3.9 M808.30,462.01h-3.9 M808.30,432.21h-3.9 M808.30,402.42h-3.9 M808.30,342.82h-3.9 M808.30,313.02h-3.9 M808.30,283.23h-3.9 M808.30,223.63h-3.9 M808.30,193.83h-3.9 M808.30,164.04h-3.9 M808.30,104.44h-3.9 M808.30,74.64h-3.9 M808.30,44.85h-3.9" stroke="#000" stroke-width="1.05" fill="none"/>
<g><text transform="translate(833.10 642.90) scale(0.9502 1)" style="font-family:'Liberation Sans',sans-serif;font-size:29.99px;" stroke="#000" stroke-width="0.45">1</text><text transform="translate(850.86 642.90) scale(0.9949 1)" style="font-family:'Liberation Sans',sans-serif;font-size:29.99px;" stroke="#000" stroke-width="0.45">4</text></g>
<g><text transform="translate(916.83 642.90) scale(0.9502 1)" style="font-family:'Liberation Sans',sans-serif;font-size:29.99px;" stroke="#000" stroke-width="0.45">1</text><text transform="translate(934.30 642.90) scale(1.0213 1)" style="font-family:'Liberation Sans',sans-serif;font-size:30.23px;" stroke="#000" stroke-width="0.45">6</text></g>
<g><text transform="translate(1000.55 642.90) scale(0.9502 1)" style="font-family:'Liberation Sans',sans-serif;font-size:29.99px;" stroke="#000" stroke-width="0.45">1</text><text transform="translate(1018.23 642.90) scale(0.9975 1)" style="font-family:'Liberation Sans',sans-serif;font-size:30.23px;" stroke="#000" stroke-width="0.45">8</text></g>
<g><text transform="translate(1083.97 642.90) scale(0.9559 1)" style="font-family:'Liberation Sans',sans-serif;font-size:30.08px;" stroke="#000" stroke-width="0.45">2</text><text transform="translate(1102.05 642.90) scale(0.9868 1)" style="font-family:'Liberation Sans',sans-serif;font-size:30.23px;" stroke="#000" stroke-width="0.45">0</text></g>
<g><text transform="translate(1167.70 642.90) scale(0.9559 1)" style="font-family:'Liberation Sans',sans-serif;font-size:30.08px;" stroke="#000" stroke-width="0.45">2</text><text transform="translate(1185.71 642.90) scale(0.9559 1)" style="font-family:'Liberation Sans',sans-serif;font-size:30.08px;" stroke="#000" stroke-width="0.45">2</text></g>
<g><text transform="translate(1251.43 642.90) scale(0.9559 1)" style="font-family:'Liberation Sans',sans-serif;font-size:30.08px;" stroke="#000" stroke-width="0.45">2</text><text transform="translate(1269.50 642.90) scale(0.9949 1)" style="font-family:'Liberation Sans',sans-serif;font-size:29.99px;" stroke="#000" stroke-width="0.45">4</text></g>
<g><text transform="translate(1335.16 642.90) scale(0.9559 1)" style="font-family:'Liberation Sans',sans-serif;font-size:30.08px;" stroke="#000" stroke-width="0.45">2</text><text transform="translate(1352.94 642.90) scale(1.0213 1)" style="font-family:'Liberation Sans',sans-serif;font-size:30.23px;" stroke="#000" stroke-width="0.45">6</text></g>
<g><text transform="translate(753.89 622.00) scale(0.9868 1)" style="font-family:'Liberation Sans',sans-serif;font-size:30.23px;" stroke="#000" stroke-width="0.45">0</text><text transform="translate(771.43 622.00) scale(0.9630 1)" style="font-family:'Liberation Sans',sans-serif;font-size:31.80px;" stroke="#000" stroke-width="0.45">.</text><text transform="translate(780.89 622.00) scale(0.9868 1)" style="font-family:'Liberation Sans',sans-serif;font-size:30.23px;" stroke="#000" stroke-width="0.45">0</text></g>
<g><text transform="translate(753.89 502.81) scale(0.9868 1)" style="font-family:'Liberation Sans',sans-serif;font-size:30.23px;" stroke="#000" stroke-width="0.45">0</text><text transform="translate(771.43 502.81) scale(0.9630 1)" style="font-family:'Liberation Sans',sans-serif;font-size:31.80px;" stroke="#000" stroke-width="0.45">.</text><text transform="translate(780.82 502.81) scale(0.9559 1)" style="font-family:'Liberation Sans',sans-serif;font-size:30.08px;" stroke="#000" stroke-width="0.45">2</text></g>
<g><text transform="translate(753.89 383.62) scale(0.9868 1)" style="font-family:'Liberation Sans',sans-serif;font-size:30.23px;" stroke="#000" stroke-width="0.45">0</text><text transform="translate(771.43 383.62) scale(0.9630 1)" style="font-family:'Liberation Sans',sans-serif;font-size:31.80px;" stroke="#000" stroke-width="0.45">.</text><text transform="translate(780.89 383.62) scale(0.9949 1)" style="font-family:'Liberation Sans',sans-serif;font-size:29.99px;" stroke="#000" stroke-width="0.45">4</text></g>
<g><text transform="translate(753.89 264.43) scale(0.9868 1)" style="font-family:'Liberation Sans',sans-serif;font-size:30.23px;" stroke="#000" stroke-width="0.45">0</text><text transform="translate(771.43 264.43) scale(0.9630 1)" style="font-family:'Liberation Sans',sans-serif;font-size:31.80px;" stroke="#000" stroke-width="0.45">.</text><text transform="translate(780.60 264.43) scale(1.0213 1)" style="font-family:'Liberation Sans',sans-serif;font-size:30.23px;" stroke="#000" stroke-width="0.45">6</text></g>
<g><text transform="translate(753.89 145.24) scale(0.9868 1)" style="font-family:'Liberation Sans',sans-serif;font-size:30.23px;" stroke="#000" stroke-width="0.45">0</text><text transform="translate(771.43 145.24) scale(0.9630 1)" style="font-family:'Liberation Sans',sans-serif;font-size:31.80px;" stroke="#000" stroke-width="0.45">.</text><text transform="translate(780.80 145.24) scale(0.9975 1)" style="font-family:'Liberation Sans',sans-serif;font-size:30.23px;" stroke="#000" stroke-width="0.45">8</text></g>
<g><text transform="translate(754.13 26.05) scale(0.9502 1)" style="font-family:'Liberation Sans',sans-serif;font-size:29.99px;" stroke="#000" stroke-width="0.45">1</text><text transform="translate(771.43 26.05) scale(0.9630 1)" style="font-family:'Liberation Sans',sans-serif;font-size:31.80px;" stroke="#000" stroke-width="0.45">.</text><text transform="translate(780.89 26.05) scale(0.9868 1)" style="font-family:'Liberation Sans',sans-serif;font-size:30.23px;" stroke="#000" stroke-width="0.45">0</text></g>
<g><text transform="translate(1064.00 680.60) scale(1.2000 1)" style="font-family:'Liberation Sans',sans-serif;font-size:36.16px;font-style:italic;">t</text><text transform="translate(1077.92 678.72) scale(0.8484 1)" style="font-family:'Liberation Sans',sans-serif;font-size:33.68px;" stroke="#000" stroke-width="0.45">(</text><text transform="translate(1090.79 680.60) scale(1.0468 1)" style="font-family:'Liberation Sans',sans-serif;font-size:34.82px;font-style:italic;" stroke="#000" stroke-width="0.35">p</text><text transform="translate(1111.73 680.60) scale(0.9749 1)" style="font-family:'Liberation Sans',sans-serif;font-size:35.52px;font-style:italic;" stroke="#000" stroke-width="0.35">s</text><text transform="translate(1131.58 678.72) scale(0.8484 1)" style="font-family:'Liberation Sans',sans-serif;font-size:33.68px;" stroke="#000" stroke-width="0.45">)</text></g>
<g transform="translate(740.20 339.0) rotate(-90)"><g><text transform="translate(1.68 0.00) scale(0.9521 1)" style="font-family:'Liberation Sans',sans-serif;font-size:35.82px;font-style:italic;" stroke="#000" stroke-width="0.35">A</text><text transform="translate(24.92 2.77) scale(1.0837 1)" style="font-family:'Liberation Sans',sans-serif;font-size:37.82px;" stroke="#000" stroke-width="0.45">/</text><text transform="translate(36.51 0.00) scale(1.0479 1)" style="font-family:'Liberation Sans',sans-serif;font-size:35.44px;font-style:italic;" stroke="#000" stroke-width="0.35">λ</text></g></g>
<g><text transform="translate(821.63 60.72) scale(0.8484 1)" style="font-family:'Liberation Sans',sans-serif;font-size:33.68px;" stroke="#000" stroke-width="0.45">(</text><text transform="translate(834.39 62.60) scale(1.0223 1)" style="font-family:'Liberation Sans',sans-serif;font-size:35.62px;font-style:italic;" stroke="#000" stroke-width="0.35">b</text><text transform="translate(857.68 60.72) scale(0.8484 1)" style="font-family:'Liberation Sans',sans-serif;font-size:33.68px;" stroke="#000" stroke-width="0.45">)</text></g>
<path d="M1039.3,52.1H1095.9" stroke="#000" stroke-width="2.82" stroke-linecap="square"/>
<path d="M1039.3,100.5H1095.9" stroke="#0a7d0a" stroke-width="2.82" stroke-dasharray="18.05 4.51 2.82 4.51"/>
<path d="M1039.3,151.5H1095.9" stroke="#f00000" stroke-width="2.82" stroke-dasharray="10.43 4.51"/>
<circle cx="1067.5" cy="198.5" r="2.9" fill="none" stroke="#1414d0" stroke-width="1.75"/>
<g><text transform="translate(1118.10 61.80) scale(0.9741 1)" style="font-family:'Liberation Sans',sans-serif;font-size:29.99px;font-style:italic;" stroke="#000" stroke-width="0.35">L</text><text transform="translate(1134.53 61.80) scale(0.9924 1)" style="font-family:'Liberation Sans',sans-serif;font-size:29.67px;font-style:italic;" stroke="#000" stroke-width="0.35">i</text><text transform="translate(1142.36 61.80) scale(1.0310 1)" style="font-family:'Liberation Sans',sans-serif;font-size:29.48px;font-style:italic;" stroke="#000" stroke-width="0.35">n</text><text transform="translate(1160.07 61.80) scale(1.0318 1)" style="font-family:'Liberation Sans',sans-serif;font-size:29.66px;font-style:italic;" stroke="#000" stroke-width="0.35">e</text><text transform="translate(1177.73 61.80) scale(0.9662 1)" style="font-family:'Liberation Sans',sans-serif;font-size:29.66px;font-style:italic;" stroke="#000" stroke-width="0.35">a</text><text transform="translate(1194.98 61.80) scale(1.1738 1)" style="font-family:'Liberation Sans',sans-serif;font-size:29.46px;font-style:italic;" stroke="#000" stroke-width="0.35">r</text></g>
<g><text transform="translate(1118.10 109.70) scale(0.9741 1)" style="font-family:'Liberation Sans',sans-serif;font-size:29.99px;font-style:italic;" stroke="#000" stroke-width="0.35">L</text><text transform="translate(1134.53 109.70) scale(0.9924 1)" style="font-family:'Liberation Sans',sans-serif;font-size:29.67px;font-style:italic;" stroke="#000" stroke-width="0.35">i</text><text transform="translate(1142.36 109.70) scale(1.0310 1)" style="font-family:'Liberation Sans',sans-serif;font-size:29.48px;font-style:italic;" stroke="#000" stroke-width="0.35">n</text><text transform="translate(1160.07 109.70) scale(1.0318 1)" style="font-family:'Liberation Sans',sans-serif;font-size:29.66px;font-style:italic;" stroke="#000" stroke-width="0.35">e</text><text transform="translate(1177.73 109.70) scale(0.9662 1)" style="font-family:'Liberation Sans',sans-serif;font-size:29.66px;font-style:italic;" stroke="#000" stroke-width="0.35">a</text><text transform="translate(1194.98 109.70) scale(1.1738 1)" style="font-family:'Liberation Sans',sans-serif;font-size:29.46px;font-style:italic;" stroke="#000" stroke-width="0.35">r</text></g>
<g><text transform="translate(1212.42 112.89) scale(1.0055 1)" style="font-family:'Liberation Sans',sans-serif;font-size:36.26px;" stroke="#000" stroke-width="0.1">+</text></g>
<g><text transform="translate(1241.41 109.70) scale(0.9521 1)" style="font-family:'Liberation Sans',sans-serif;font-size:29.99px;font-style:italic;" stroke="#000" stroke-width="0.35">A</text></g>
<g><text transform="translate(1259.46 118.30) scale(1.0295 1)" style="font-family:'Liberation Sans',sans-serif;font-size:20.99px;font-style:italic;" stroke="#000" stroke-width="0.35">T</text></g>
<g><text transform="translate(1262.70 97.50) scale(1.0223 1)" style="font-family:'Liberation Sans',sans-serif;font-size:20.88px;font-style:italic;" stroke="#000" stroke-width="0.35">b</text></g>
<g><text transform="translate(1273.64 97.50) scale(1.2000 1)" style="font-family:'Liberation Sans',sans-serif;font-size:20.26px;" stroke="#000" stroke-width="0.45">,</text></g>
<g><text transform="translate(1284.55 97.50) scale(0.9749 1)" style="font-family:'Liberation Sans',sans-serif;font-size:20.82px;font-style:italic;" stroke="#000" stroke-width="0.35">s</text></g>
<g><text transform="translate(1118.10 160.90) scale(0.9741 1)" style="font-family:'Liberation Sans',sans-serif;font-size:29.99px;font-style:italic;" stroke="#000" stroke-width="0.35">L</text><text transform="translate(1134.53 160.90) scale(0.9924 1)" style="font-family:'Liberation Sans',sans-serif;font-size:29.67px;font-style:italic;" stroke="#000" stroke-width="0.35">i</text><text transform="translate(1142.36 160.90) scale(1.0310 1)" style="font-family:'Liberation Sans',sans-serif;font-size:29.48px;font-style:italic;" stroke="#000" stroke-width="0.35">n</text><text transform="translate(1160.07 160.90) scale(1.0318 1)" style="font-family:'Liberation Sans',sans-serif;font-size:29.66px;font-style:italic;" stroke="#000" stroke-width="0.35">e</text><text transform="translate(1177.73 160.90) scale(0.9662 1)" style="font-family:'Liberation Sans',sans-serif;font-size:29.66px;font-style:italic;" stroke="#000" stroke-width="0.35">a</text><text transform="translate(1194.98 160.90) scale(1.1738 1)" style="font-family:'Liberation Sans',sans-serif;font-size:29.46px;font-style:italic;" stroke="#000" stroke-width="0.35">r</text></g>
<g><text transform="translate(1212.42 164.09) scale(1.0055 1)" style="font-family:'Liberation Sans',sans-serif;font-size:36.26px;" stroke="#000" stroke-width="0.1">+</text></g>
<g><text transform="translate(1241.41 160.90) scale(0.9521 1)" style="font-family:'Liberation Sans',sans-serif;font-size:29.99px;font-style:italic;" stroke="#000" stroke-width="0.35">A</text></g>
<g><text transform="translate(1259.46 169.50) scale(1.0295 1)" style="font-family:'Liberation Sans',sans-serif;font-size:20.99px;font-style:italic;" stroke="#000" stroke-width="0.35">T</text></g>
<g><text transform="translate(1262.70 148.70) scale(1.0223 1)" style="font-family:'Liberation Sans',sans-serif;font-size:20.88px;font-style:italic;" stroke="#000" stroke-width="0.35">b</text></g>
<g><text transform="translate(1273.64 148.70) scale(1.2000 1)" style="font-family:'Liberation Sans',sans-serif;font-size:20.26px;" stroke="#000" stroke-width="0.45">,</text></g>
<g><text transform="translate(1284.55 148.70) scale(0.9749 1)" style="font-family:'Liberation Sans',sans-serif;font-size:20.82px;font-style:italic;" stroke="#000" stroke-width="0.35">s</text></g>
<g><text transform="translate(1302.22 164.09) scale(1.0055 1)" style="font-family:'Liberation Sans',sans-serif;font-size:36.26px;" stroke="#000" stroke-width="0.1">+</text></g>
<g><text transform="translate(1329.63 160.90) scale(1.0426 1)" style="font-family:'Liberation Sans',sans-serif;font-size:29.29px;font-style:italic;" stroke="#000" stroke-width="0.35">v</text><text transform="translate(1346.54 160.90) scale(0.9924 1)" style="font-family:'Liberation Sans',sans-serif;font-size:29.67px;font-style:italic;" stroke="#000" stroke-width="0.35">i</text><text transform="translate(1354.13 160.90) scale(0.9749 1)" style="font-family:'Liberation Sans',sans-serif;font-size:29.74px;font-style:italic;" stroke="#000" stroke-width="0.35">s</text></g>
<g><text transform="translate(1118.73 205.00) scale(0.9749 1)" style="font-family:'Liberation Sans',sans-serif;font-size:29.74px;font-style:italic;" stroke="#000" stroke-width="0.35">s</text><text transform="translate(1133.75 205.00) scale(0.9924 1)" style="font-family:'Liberation Sans',sans-serif;font-size:29.67px;font-style:italic;" stroke="#000" stroke-width="0.35">i</text><text transform="translate(1141.55 205.00) scale(1.0853 1)" style="font-family:'Liberation Sans',sans-serif;font-size:29.48px;font-style:italic;" stroke="#000" stroke-width="0.35">m</text><text transform="translate(1168.99 205.00) scale(1.0311 1)" style="font-family:'Liberation Sans',sans-serif;font-size:29.53px;font-style:italic;" stroke="#000" stroke-width="0.35">u</text></g>
<g><text transform="translate(394.63 578.50) scale(1.0509 1)" style="font-family:'Liberation Serif',serif;font-size:45.40px;font-style:italic;" stroke="#000" stroke-width="0.3">k</text><text transform="translate(431.23 581.44) scale(1.2000 1)" style="font-family:'Liberation Serif',serif;font-size:48.00px;" stroke="#000" stroke-width="1.0">=</text><text transform="translate(477.86 578.50) scale(0.9706 1)" style="font-family:'Liberation Serif',serif;font-size:46.14px;" stroke="#000" stroke-width="0.3">3</text><text transform="translate(501.49 578.50) scale(0.9003 1)" style="font-family:'Liberation Serif',serif;font-size:42.30px;" stroke="#000" stroke-width="0.3">.</text><text transform="translate(510.96 578.50) scale(1.0273 1)" style="font-family:'Liberation Serif',serif;font-size:45.90px;" stroke="#000" stroke-width="0.3">1</text><text transform="translate(537.11 578.50) scale(0.9860 1)" style="font-family:'Liberation Serif',serif;font-size:46.03px;" stroke="#000" stroke-width="0.3">4</text><text transform="translate(561.64 578.50) scale(0.9648 1)" style="font-family:'Liberation Serif',serif;font-size:43.25px;font-style:italic;" stroke="#000" stroke-width="0.15">μ</text><text transform="translate(581.44 578.50) scale(1.2000 1)" style="font-family:'Liberation Serif',serif;font-size:45.63px;font-style:italic;" stroke="#000" stroke-width="0.1">m</text><text transform="translate(623.81 568.82) scale(0.8000 1)" style="font-family:'Liberation Serif',serif;font-size:50.20px;" stroke="#000" stroke-width="0.8">−</text><text transform="translate(646.41 561.90) scale(1.2000 1)" style="font-family:'Liberation Serif',serif;font-size:30.30px;" stroke="#000" stroke-width="0.3">1</text></g>
<g><text transform="translate(1103.56 578.50) scale(1.1021 1)" style="font-family:'Liberation Serif',serif;font-size:45.40px;font-style:italic;" stroke="#000" stroke-width="0.3">k</text><text transform="translate(1141.23 581.44) scale(1.2000 1)" style="font-family:'Liberation Serif',serif;font-size:48.00px;" stroke="#000" stroke-width="1.0">=</text><text transform="translate(1186.41 578.50) scale(1.0575 1)" style="font-family:'Liberation Serif',serif;font-size:46.20px;" stroke="#000" stroke-width="0.3">1</text><text transform="translate(1211.27 578.50) scale(0.9803 1)" style="font-family:'Liberation Serif',serif;font-size:42.30px;" stroke="#000" stroke-width="0.3">.</text><text transform="translate(1221.93 578.50) scale(0.9264 1)" style="font-family:'Liberation Serif',serif;font-size:47.70px;" stroke="#000" stroke-width="0.3">5</text><text transform="translate(1245.54 578.50) scale(1.0025 1)" style="font-family:'Liberation Serif',serif;font-size:46.27px;" stroke="#000" stroke-width="0.3">7</text><text transform="translate(1270.94 578.50) scale(0.9648 1)" style="font-family:'Liberation Serif',serif;font-size:43.25px;font-style:italic;" stroke="#000" stroke-width="0.15">μ</text><text transform="translate(1290.99 578.50) scale(1.2000 1)" style="font-family:'Liberation Serif',serif;font-size:45.63px;font-style:italic;" stroke="#000" stroke-width="0.1">m</text><text transform="translate(1333.81 568.82) scale(0.8000 1)" style="font-family:'Liberation Serif',serif;font-size:50.20px;" stroke="#000" stroke-width="0.8">−</text><text transform="translate(1356.41 561.90) scale(1.2000 1)" style="font-family:'Liberation Serif',serif;font-size:30.30px;" stroke="#000" stroke-width="0.3">1</text></g>
</svg></body></html>
